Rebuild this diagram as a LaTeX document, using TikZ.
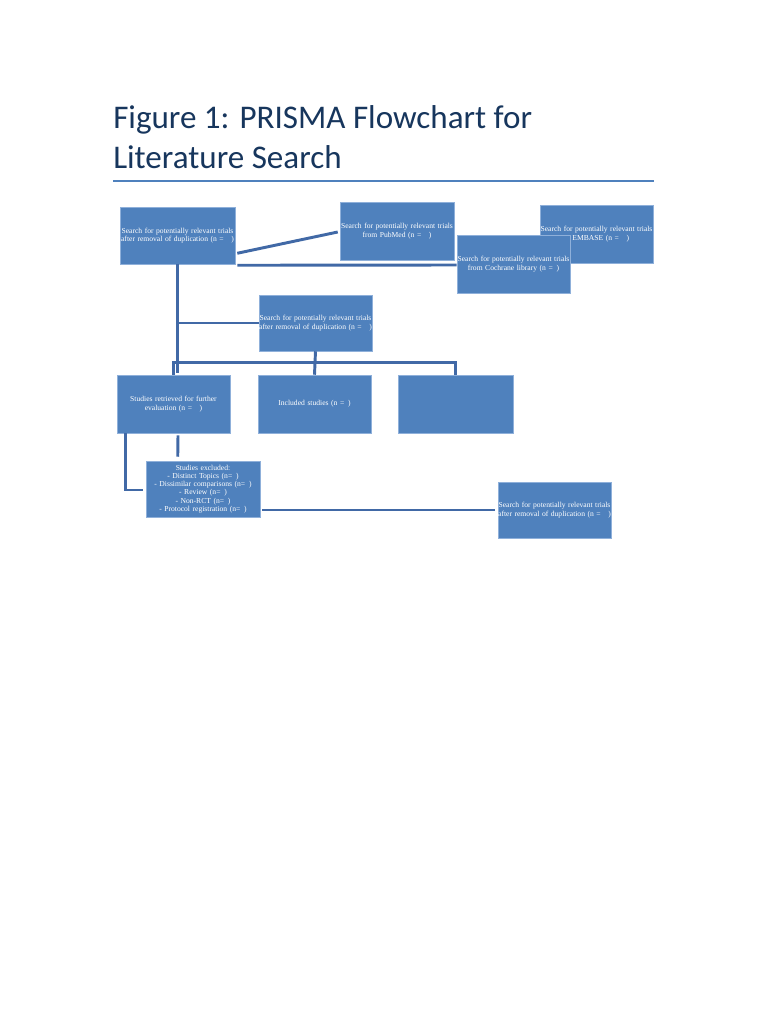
\documentclass[tikz,border=0pt]{standalone}
\usepackage{fontspec}
\setmainfont{Liberation Serif}
\newfontfamily\titlefont{Carlito}
\usetikzlibrary{calc}
\definecolor{boxblue}{HTML}{4F81BD}
\definecolor{boxedge}{HTML}{8FB0DA}
\definecolor{lineblue}{HTML}{4169A6}
\definecolor{titleblue}{HTML}{17365D}
\tikzset{
  box/.style={rectangle, fill=boxblue, draw=boxedge, line width=0.4pt, inner sep=0pt,
    text=white, align=center, font=\fontsize{5.7}{6.5}\selectfont},
  conn/.style={draw=lineblue, line width=2.2pt},
  titletext/.style={anchor=base west, inner sep=0pt, text=titleblue, font=\titlefont\fontsize{24.8}{28}\selectfont}
}
\hyphenpenalty=10000
\begin{document}
\begin{tikzpicture}[x=0.75pt,y=-0.75pt]
\useasboundingbox (0,0) rectangle (768,1024);
\fill[white] (0,0) rectangle (768,1024);
% title
\node[titletext] (t1) at (113,128) {Figure 1: PRISMA Flowchart for};
\node[titletext] (t2) at (113,168) {Literature Search};
\coordinate (r1) at (113,181);
\coordinate (r2) at (654,181);
\draw[boxblue, line width=1.3pt] (r1) -- (r2);
% boxes
\node[box, minimum width=115*0.75pt, minimum height=57*0.75pt, text width=115*0.75pt] (A) at (177.5,235.5) {Search for potentially relevant trials\\after removal of duplication (n =\quad)};
\node[box, minimum width=114*0.75pt, minimum height=58*0.75pt, text width=114*0.75pt] (P) at (397,231) {Search for potentially relevant trials\\from PubMed (n =\quad)};
\node[box, minimum width=113*0.75pt, minimum height=58*0.75pt, text width=113*0.75pt] (E) at (596.5,234) {Search for potentially relevant trials\\in EMBASE (n =\quad)};
\node[box, minimum width=113*0.75pt, minimum height=58*0.75pt, text width=113*0.75pt] (C) at (513.5,264) {Search for potentially relevant trials\\from Cochrane library (n =\enspace)};
\node[box, minimum width=113*0.75pt, minimum height=56*0.75pt, text width=113*0.75pt] (B) at (315.5,323) {Search for potentially relevant trials\\after removal of duplication (n =\quad)};
\node[box, minimum width=113*0.75pt, minimum height=58*0.75pt, text width=113*0.75pt] (R) at (173.5,404) {Studies retrieved for further\\evaluation (n =\quad)};
\node[box, minimum width=113*0.75pt, minimum height=58*0.75pt, text width=113*0.75pt] (I) at (314.5,404) {Included studies (n =\enspace)};
\node[box, minimum width=115*0.75pt, minimum height=58*0.75pt] (M) at (455.5,404) {};
\node[box, minimum width=114*0.75pt, minimum height=56*0.75pt, text width=114*0.75pt, font=\fontsize{5.7}{6.2}\selectfont] (X) at (203,489) {Studies excluded:\\- Distinct Topics (n=\enspace)\\- Dissimilar comparisons (n=\enspace)\\- Review (n=\enspace)\\- Non-RCT (n=\enspace)\\- Protocol registration (n=\enspace)};
\node[box, minimum width=113*0.75pt, minimum height=56*0.75pt, text width=113*0.75pt] (L) at (554.5,510) {Search for potentially relevant trials\\after removal of duplication (n =\quad)};
% connectors
\draw[conn] ($(A.south east)+(2,-11)$) -- ($(P.west)+(-2,1)$);
\draw[conn] ($(A.south east)+(2,1)$) -- ($(C.west)+(0,1)$);
\draw[conn] (A.south) -- ($(R.north)+(4,-2)$);
\draw[conn] (A.south |- B.west) -- (B.west);
\draw[conn] (R.north) -- ++(0,-12) -| (M.north);
\draw[conn] (B.south) -- (I.north);
\draw[conn] ($(R.south west)+(9,0)$) |- ($(X.west)+(-3,1)$);
\draw[conn] ($(R.south)+(4.5,2)$) -- ($(X.north west)+(32,-4)$);
\draw[conn] ($(X.east)+(2,21)$) -- ($(L.west)+(-3,0)$);
\end{tikzpicture}
\end{document}
